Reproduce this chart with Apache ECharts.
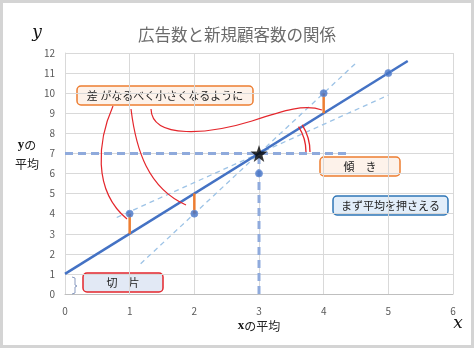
<!DOCTYPE html>
<html>
<head>
<meta charset="utf-8">
<script src="https://cdn.jsdelivr.net/npm/echarts@6/dist/echarts.min.js"></script>
<style>
  html, body { margin: 0; padding: 0; background: #fff; }
  #chart { width: 474px; height: 348px; }
</style>
</head>
<body>
<div id="chart"></div>
<script>
// Observations: number of ads (x) and new customers (y)
const adCounts = [1, 2, 3, 4, 5];
const newCustomers = [4, 4, 6, 10, 11];
const xTicks = [0, 1, 2, 3, 4, 5, 6];
const yTicks = [0, 1, 2, 3, 4, 5, 6, 7, 8, 9, 10, 11, 12];

// Illustrative candidate lines through the mean point (slopes and x extents)
const guideSlopes = [3, 1.45];
const guideXFrom = [1.17, 0.8];
const guideXTo = [4.53, 5.0];

// Extent of the fitted line and of the horizontal mean guide
const fitXRange = [0, 5.3];
const meanLineXEnd = 4.4;

// Residuals that are highlighted (indices into the observations)
const residualIndex = [0, 1, 3];

// Least-squares fit computed from the observations
const n = adCounts.length;
const meanX = adCounts.reduce((a, b) => a + b, 0) / n;
const meanY = newCustomers.reduce((a, b) => a + b, 0) / n;
let sxy = 0, sxx = 0;
for (let i = 0; i < n; i++) {
  sxy += (adCounts[i] - meanX) * (newCustomers[i] - meanY);
  sxx += (adCounts[i] - meanX) ** 2;
}
const slope = sxy / sxx;
const intercept = meanY - slope * meanX;
const fit = x => intercept + slope * x;

const BLUE = '#4472c4';
const MEAN_BLUE = '#8faadc';
const GUIDE_BLUE = '#9dc3e6';
const ORANGE = '#ed7d31';
const RED = '#e4262c';
const FONT = '"Noto Sans CJK JP", "Noto Sans", sans-serif';

const series = [];

// candidate lines (dashed)
guideSlopes.forEach((s, i) => {
  const g = x => meanY + s * (x - meanX);
  series.push({
    type: 'line', silent: true, showSymbol: false, z: 2,
    lineStyle: { color: GUIDE_BLUE, width: 1.3, type: [5, 4] },
    data: [[guideXFrom[i], g(guideXFrom[i])], [guideXTo[i], g(guideXTo[i])]]
  });
});

// mean guides
series.push({
  type: 'line', silent: true, showSymbol: false, z: 3,
  lineStyle: { color: MEAN_BLUE, width: 3, type: [8, 5] },
  data: [[0, meanY], [meanLineXEnd, meanY]]
});
series.push({
  type: 'line', silent: true, showSymbol: false, z: 3,
  lineStyle: { color: MEAN_BLUE, width: 3, type: [8, 5] },
  data: [[meanX, 0], [meanX, meanY]]
});

// fitted line
series.push({
  type: 'line', silent: true, showSymbol: false, z: 4,
  lineStyle: { color: BLUE, width: 2.5 },
  data: [[fitXRange[0], fit(fitXRange[0])], [fitXRange[1], fit(fitXRange[1])]]
});

// residual segments
residualIndex.forEach(i => {
  series.push({
    type: 'line', silent: true, showSymbol: false, z: 5,
    lineStyle: { color: ORANGE, width: 2.5 },
    data: [[adCounts[i], newCustomers[i]], [adCounts[i], fit(adCounts[i])]]
  });
});

// observations
series.push({
  type: 'scatter', z: 6, symbol: 'circle', symbolSize: 7,
  itemStyle: { color: BLUE, borderColor: '#6f95d8', borderWidth: 1 },
  data: adCounts.map((x, i) => [x, newCustomers[i]])
});

// mean point star
series.push({
  type: 'scatter', z: 7, symbolSize: 17,
  symbol: 'path://M50,0 L61.8,35.1 L97.6,34.5 L69.1,56.9 L79.4,90.5 L50,70 L20.6,90.5 L30.9,56.9 L2.4,34.5 L38.2,35.1 Z',
  itemStyle: { color: '#000' },
  data: [[meanX, meanY]]
});

function box(x, y, w, h, text, stroke, fill) {
  return {
    type: 'group', z: 20,
    children: [
      { type: 'rect', shape: { x: x, y: y, width: w, height: h, r: 4 },
        style: { fill: fill, stroke: stroke, lineWidth: 1.5 } },
      { type: 'text', x: x + w / 2, y: y + h / 2,
        style: { text: text, fill: '#222', font: '11px ' + FONT, align: 'center', verticalAlign: 'middle' } }
    ]
  };
}

function curve(p) {
  return { type: 'bezierCurve', z: 9,
    shape: { x1: p[0], y1: p[1], cpx1: p[2], cpy1: p[3], cpx2: p[4], cpy2: p[5], x2: p[6], y2: p[7] },
    style: { stroke: RED, lineWidth: 1.2, fill: null } };
}

const graphics = [
  // outer frame
  { type: 'rect', z: 30, shape: { x: 1.5, y: 1.5, width: 471, height: 345 },
    style: { fill: null, stroke: '#d4d4d4', lineWidth: 3 } },
  // axis letters
  { type: 'text', x: 37, y: 33, z: 20,
    style: { text: 'y', font: 'italic 17px "DejaVu Serif", serif', fill: '#111', align: 'center', verticalAlign: 'middle' } },
  { type: 'text', x: 458, y: 324, z: 20,
    style: { text: 'x', font: 'italic 17px "DejaVu Serif", serif', fill: '#111', align: 'center', verticalAlign: 'middle' } },
  // mean labels
  { type: 'text', x: 259, y: 326, z: 20,
    style: { text: '{b|x}{t|の平均}', align: 'center', verticalAlign: 'middle',
      rich: { b: { font: 'bold 13px "Liberation Serif", serif', fill: '#111' },
              t: { font: '12px ' + FONT, fill: '#222' } } } },
  { type: 'text', x: 27, y: 145, z: 20,
    style: { text: '{b|y}{t|の}', align: 'center', verticalAlign: 'middle',
      rich: { b: { font: 'bold 13px "Liberation Serif", serif', fill: '#111' },
              t: { font: '12px ' + FONT, fill: '#222' } } } },
  { type: 'text', x: 27, y: 164, z: 20,
    style: { text: '平均', font: '12px ' + FONT, fill: '#222', align: 'center', verticalAlign: 'middle' } },
  // angle arcs at the mean point
  { type: 'arc', z: 8, shape: { cx: 259, cy: 152, r: 47, startAngle: -0.57, endAngle: 0 },
    style: { stroke: RED, lineWidth: 1.3, fill: null } },
  { type: 'arc', z: 8, shape: { cx: 259, cy: 152, r: 51, startAngle: -0.56, endAngle: 0 },
    style: { stroke: RED, lineWidth: 1.3, fill: null } },
  // leader curves
  curve([113, 106, 98, 140, 92, 190, 127, 219]),
  curve([131, 109, 136, 150, 148, 188, 186, 205]),
  curve([151, 109, 152, 140, 210, 134, 252, 121]),
  curve([252, 121, 285, 110, 305, 104, 322, 110]),
  // intercept bracket
  { type: 'polyline', z: 9, shape: { points: [[72, 277], [75, 278], [75, 285], [77, 286], [75, 287], [75, 293], [72, 294]] },
    style: { stroke: '#8a9bc0', lineWidth: 1, fill: null } },
  // callout boxes
  box(77, 86, 176, 19, '差 がなるべく小さくなるように', ORANGE, '#fdf2ea'),
  box(320, 157, 80, 19, '傾　き', ORANGE, '#fdf2ea'),
  box(333, 196, 115, 19, 'まず平均を押さえる', '#2e75b6', '#e2eefa'),
  box(83, 273, 80, 19, '切　片', RED, '#e2e9f5')
];

const chart = echarts.init(document.getElementById('chart'), null, { renderer: 'canvas' });
chart.setOption({
  animation: false,
  backgroundColor: '#fff',
  title: {
    text: '広告数と新規顧客数の関係', left: 'center', top: 21,
    textStyle: { fontFamily: FONT, fontSize: 16.5, fontWeight: 'normal', color: '#6b6b6b' }
  },
  grid: { left: 65, right: 21, top: 53, bottom: 54 },
  xAxis: {
    type: 'value', min: xTicks[0], max: xTicks[xTicks.length - 1], interval: 1,
    axisLine: { show: true, lineStyle: { color: '#bfbfbf' } },
    axisTick: { show: false },
    axisLabel: { color: '#595959', fontSize: 10, fontFamily: FONT, margin: 12 },
    splitLine: { show: true, lineStyle: { color: '#d9d9d9' } }
  },
  yAxis: {
    type: 'value', min: yTicks[0], max: yTicks[yTicks.length - 1], interval: 1,
    axisLine: { show: true, lineStyle: { color: '#d9d9d9' } },
    axisTick: { show: false },
    axisLabel: { color: '#595959', fontSize: 10, fontFamily: FONT, margin: 10 },
    splitLine: { show: true, lineStyle: { color: '#d9d9d9' } }
  },
  series: series,
  graphic: graphics
});
</script>
</body>
</html>
